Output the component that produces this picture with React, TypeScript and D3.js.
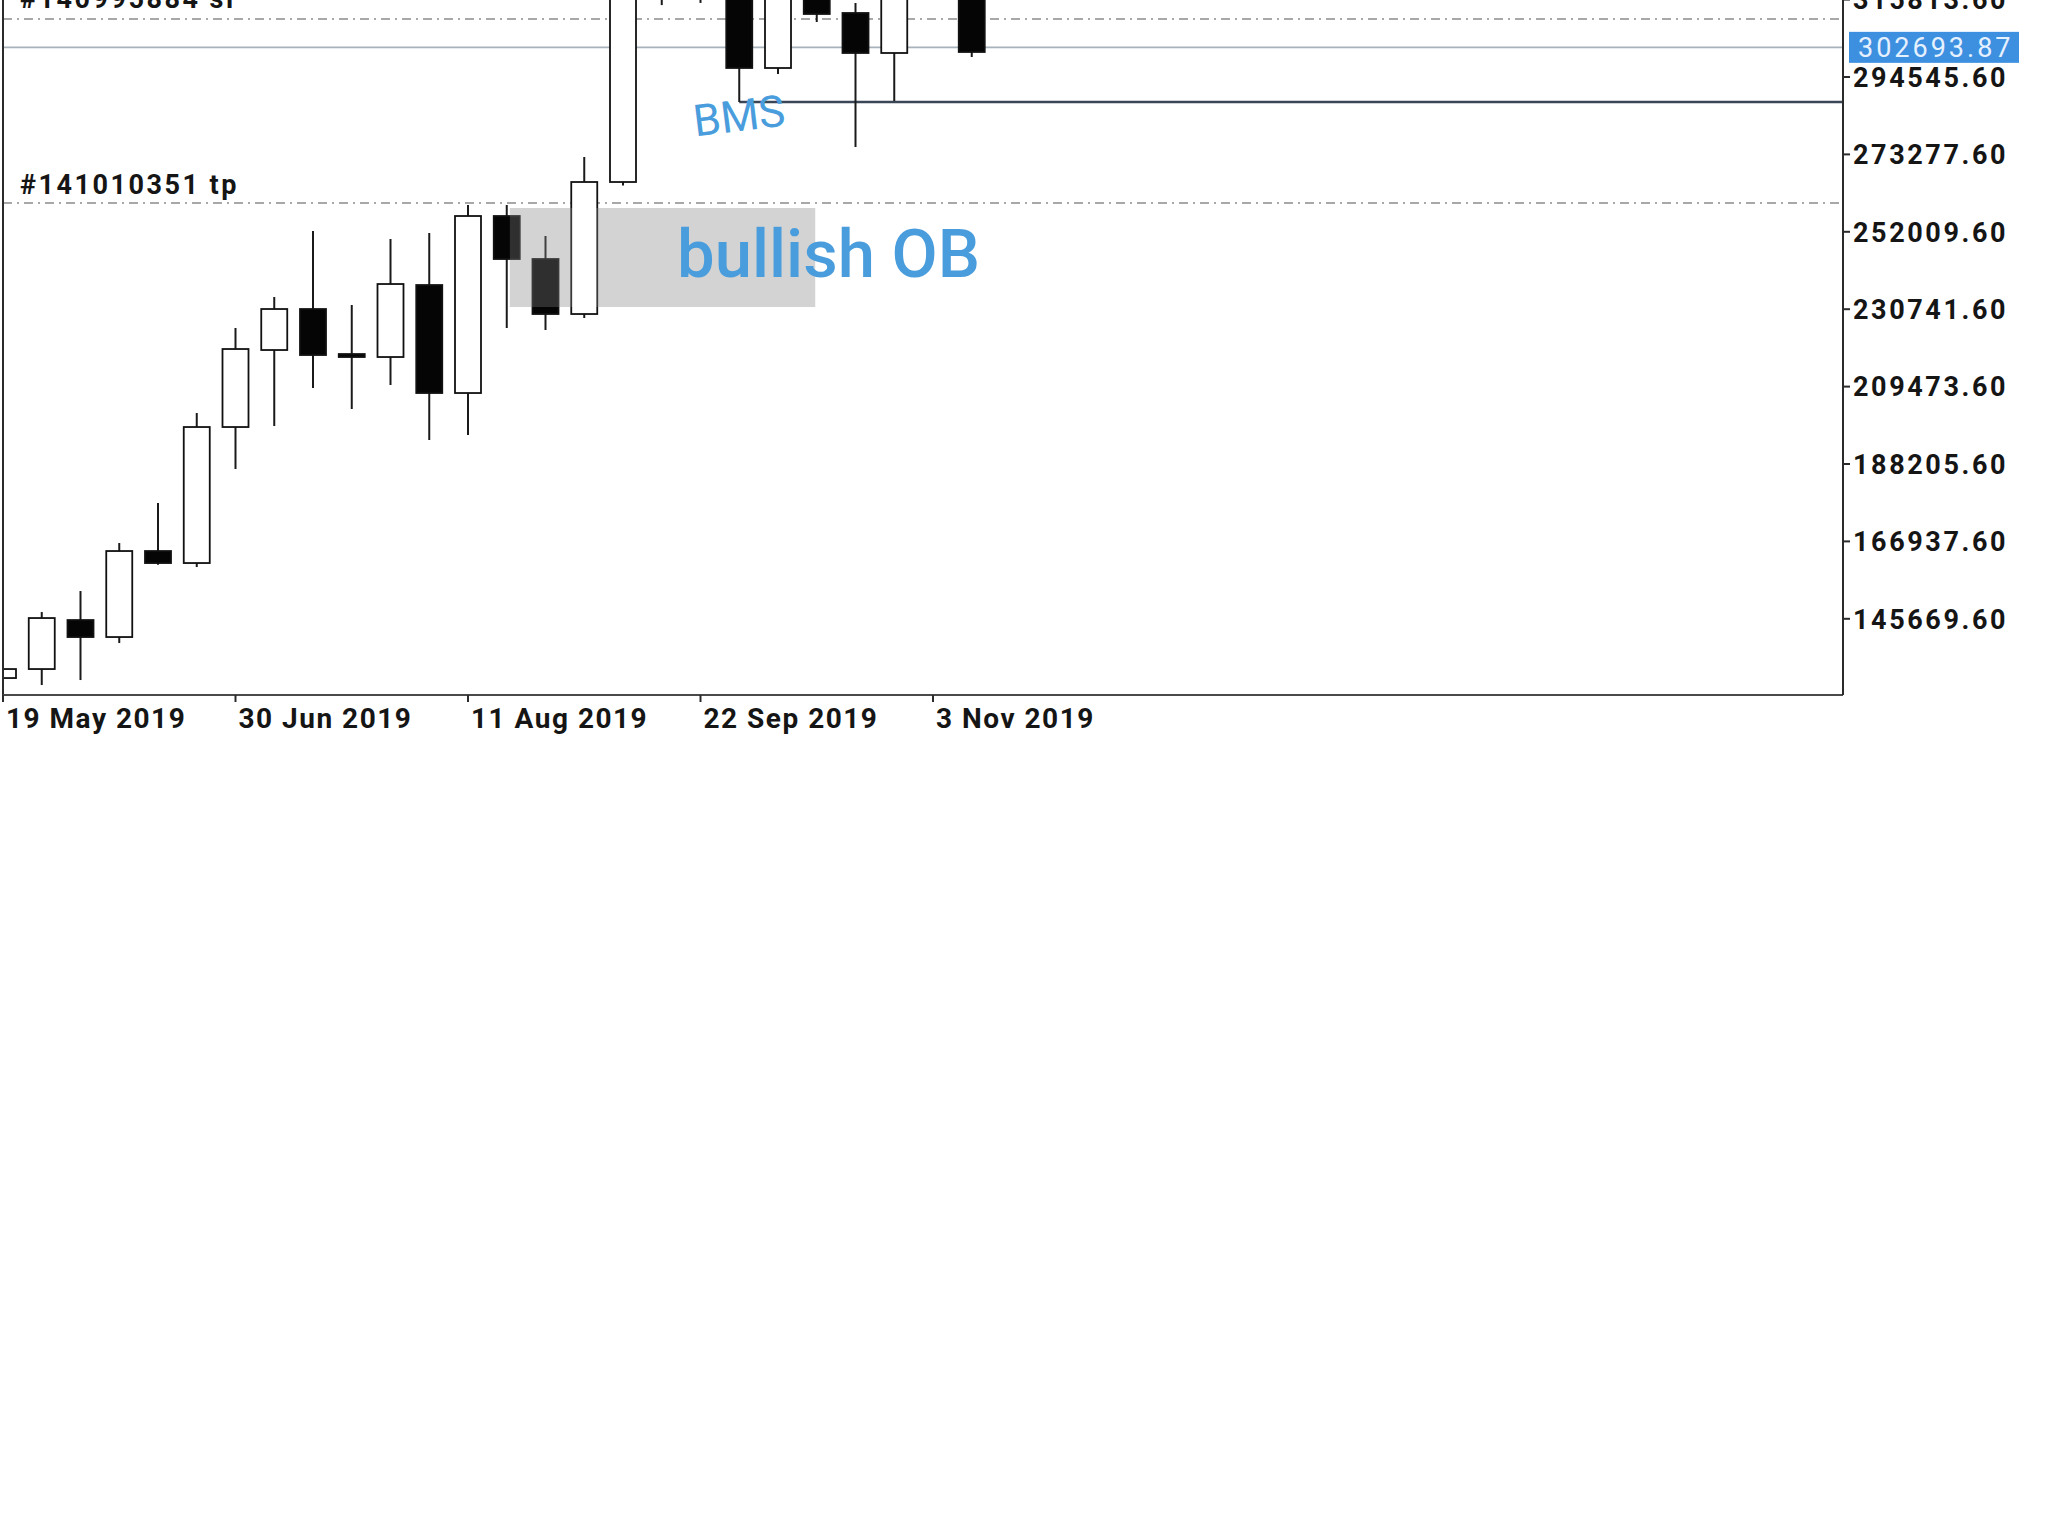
import React from 'react';
import * as d3 from 'd3';

// ---- data (weekly candles) ----
const weeks = [
  '2019-05-19', '2019-05-26', '2019-06-02', '2019-06-09', '2019-06-16', '2019-06-23',
  '2019-06-30', '2019-07-07', '2019-07-14', '2019-07-21', '2019-07-28', '2019-08-04',
  '2019-08-11', '2019-08-18', '2019-08-25', '2019-09-01', '2019-09-08', '2019-09-15',
  '2019-09-22', '2019-09-29', '2019-10-06', '2019-10-13', '2019-10-20', '2019-10-27',
  '2019-11-03', '2019-11-10',
];
const opens = [
  129390, 131864, 145330, 140658, 164291, 160993,
  198366, 219525, 230792, 218426, 217602, 237387,
  207709, 256348, 244532, 229418, 265692, 331000,
  324500, 321000, 297019, 319500, 312133, 301141,
  336000, 329000,
];
const highs = [
  139834, 147528, 153299, 166489, 177480, 202213,
  225570, 234090, 252226, 231891, 250028, 251677,
  259371, 259371, 250852, 272562, 333500, 339000,
  328000, 324500, 323000, 322500, 314881, 342000,
  341000, 331000,
];
const lows = [
  126093, 127468, 128842, 139009, 160500, 159894,
  186824, 198641, 209083, 203312, 209907, 194793,
  196167, 225571, 225021, 228319, 264730, 314300,
  314900, 287676, 295370, 309660, 275310, 287950,
  318500, 300042,
];
const closes = [
  131864, 145879, 140658, 164291, 160993, 198366,
  219800, 230792, 218151, 217602, 237662, 207709,
  256348, 244532, 229418, 265692, 331000, 324500,
  321000, 297019, 319500, 311858, 301141, 336000,
  329000, 301416,
];

const priceTicks = [
  315813.6, 294545.6, 273277.6, 252009.6, 230741.6,
  209473.6, 188205.6, 166937.6, 145669.6,
];
const dateTickIndex = [0, 6, 12, 18, 24];
const dateTickLabels = ['19 May 2019', '30 Jun 2019', '11 Aug 2019', '22 Sep 2019', '3 Nov 2019'];

const currentPrice = 302693.87;
const slLevel = 310484;
const tpLevel = 259921;
const slLabel = '#140995884 sl';
const tpLabel = '#141010351 tp';
const bmsLevel = 287676;
const bmsStartIndex = 19;
const obTop = 258546;
const obBottom = 231341;
const obStartIndex = 13.08;
const obEndIndex = 20.96;

// ---- layout ----
const W = 2048;
const H = 1536;
const plotLeft = 3;
const plotRight = 1843;
const plotBottom = 695;

const fmt = (v: number) => v.toFixed(2);

export default function App() {
  const x = d3.scaleLinear().domain([0, 25]).range([3, 971.75]);
  const y = d3.scaleLinear().domain([124401.6, 315813.6]).range([696.2, -0.4]);
  const bodyW = 26;

  const candles = weeks.map((d, i) => ({
    d, i, o: opens[i], h: highs[i], l: lows[i], c: closes[i],
  }));

  const obX0 = x(obStartIndex);
  const obX1 = x(obEndIndex);
  const obY0 = y(obTop);
  const obY1 = y(obBottom);

  const labelFont = 'Roboto, "DejaVu Sans", sans-serif';
  const blue = '#4a9ddc';

  return (
    <div style={{ position: 'absolute', left: 0, top: 0, width: W, height: H, background: '#fff' }}>
      <svg width={W} height={H} viewBox={`0 0 ${W} ${H}`} style={{ display: 'block' }}>
        <defs>
          <clipPath id="plotClip">
            <rect x={plotLeft} y={-20} width={plotRight - plotLeft} height={plotBottom + 20} />
          </clipPath>
        </defs>
        <rect x={0} y={0} width={W} height={H} fill="#ffffff" />

        <g clipPath="url(#plotClip)">
          {/* order block base */}
          <rect x={obX0} y={obY0} width={obX1 - obX0} height={obY1 - obY0} fill="#cbcbcb" />

          {/* sl / tp dash-dot lines */}
          {[slLevel, tpLevel].map((lv, k) => (
            <line key={k} x1={plotLeft} x2={plotRight} y1={y(lv)} y2={y(lv)}
              stroke="#8c8c8c" strokeWidth={1.6} strokeDasharray="9 5 2 5" />
          ))}

          {/* current price line */}
          <line x1={plotLeft} x2={plotRight} y1={y(currentPrice)} y2={y(currentPrice)}
            stroke="#a7b2ba" strokeWidth={1.6} />

          {/* BMS line */}
          <line x1={x(bmsStartIndex)} x2={plotRight} y1={y(bmsLevel)} y2={y(bmsLevel)}
            stroke="#3a4656" strokeWidth={2.6} />

          {/* candles */}
          {candles.map((cd) => {
            const cx = x(cd.i);
            const bull = cd.c >= cd.o;
            const top = y(Math.max(cd.o, cd.c));
            const bot = y(Math.min(cd.o, cd.c));
            const hgt = Math.max(3, bot - top);
            return (
              <g key={cd.d}>
                <line x1={cx} x2={cx} y1={y(cd.h)} y2={y(cd.l)} stroke="#1a1a1a" strokeWidth={2} />
                <rect x={cx - bodyW / 2} y={top} width={bodyW} height={hgt}
                  fill={bull ? '#ffffff' : '#050505'} stroke="#111111" strokeWidth={1.8} />
              </g>
            );
          })}

          {/* order block translucent overlay */}
          <rect x={obX0} y={obY0} width={obX1 - obX0} height={obY1 - obY0} fill="#ffffff" fillOpacity={0.17} />
        </g>

        {/* frame */}
        <line x1={plotLeft} x2={plotLeft} y1={0} y2={702} stroke="#2b2b2b" strokeWidth={2} />
        <line x1={plotLeft} x2={plotRight} y1={plotBottom} y2={plotBottom} stroke="#4a4a4a" strokeWidth={2} />
        <line x1={plotRight} x2={plotRight} y1={0} y2={plotBottom} stroke="#2b2b2b" strokeWidth={2} />

        {/* x ticks */}
        {dateTickIndex.map((idx, k) => (
          <g key={k}>
            <line x1={x(idx)} x2={x(idx)} y1={plotBottom} y2={702} stroke="#2b2b2b" strokeWidth={2} />
            <text x={x(idx) + 3} y={728} fontFamily={labelFont} fontWeight="bold" fontSize={28}
              letterSpacing={1.5} fill="#151515">{dateTickLabels[k]}</text>
          </g>
        ))}

        {/* y ticks */}
        {priceTicks.map((v, k) => (
          <g key={k}>
            <line x1={plotRight} x2={plotRight + 7} y1={y(v)} y2={y(v)} stroke="#2b2b2b" strokeWidth={2} />
            <text x={plotRight + 10} y={y(v)} dy="0.36em" fontFamily={labelFont} fontWeight="bold"
              fontSize={27} letterSpacing={2.6} fill="#151515">{fmt(v)}</text>
          </g>
        ))}

        {/* current price label */}
        <rect x={plotRight + 6} y={y(currentPrice) - 15.5} width={170} height={31} fill="#3d8fe0" />
        <text x={plotRight + 15} y={y(currentPrice)} dy="0.36em" fontFamily={labelFont}
          fontSize={27} letterSpacing={3} fill="#e6f1ff">{fmt(currentPrice)}</text>

        {/* sl / tp labels */}
        <text x={20} y={y(slLevel) - 11} fontFamily={labelFont} fontWeight="bold" fontSize={27}
          letterSpacing={2.5} fill="#151515">{slLabel}</text>
        <text x={20} y={y(tpLevel) - 9} fontFamily={labelFont} fontWeight="bold" fontSize={27}
          letterSpacing={2.5} fill="#151515">{tpLabel}</text>

        {/* annotations */}
        <text x={739} y={131} textAnchor="middle" transform="rotate(-7 739 116)"
          fontFamily={labelFont} fontSize={44} fill={blue}>BMS</text>
        <text x={677} y={277} fontFamily={labelFont} fontWeight={500} fontSize={67} fill={blue}>bullish OB</text>
      </svg>
    </div>
  );
}
